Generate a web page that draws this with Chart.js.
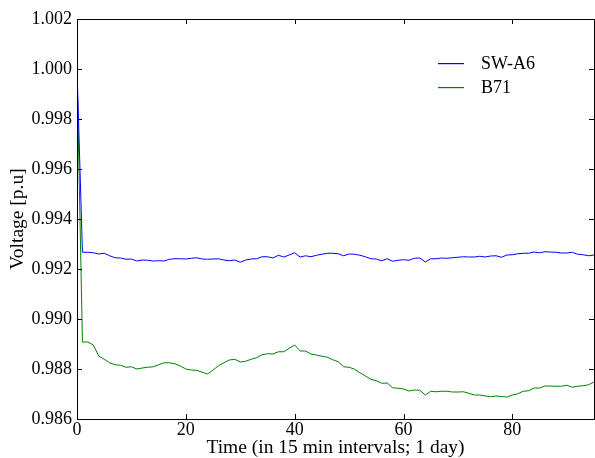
<!DOCTYPE html>
<html>
<head>
<meta charset="utf-8">
<script src="https://cdn.jsdelivr.net/npm/chart.js@4"></script>
<style>
  html, body { margin: 0; padding: 0; background: #fff; }
  #wrap { width: 595px; height: 458px; position: relative; }
</style>
</head>
<body>
<div id="wrap"><canvas id="voltageChart"></canvas></div>
<script>
// Data (96 intervals of 15 min)
const intervals = Array.from({ length: 96 }, (_, i) => i);

const swA6 = [
  1.00000, 0.99267, 0.99267, 0.99265, 0.99260, 0.99263, 0.99253, 0.99245, 0.99244, 0.99239,
  0.99240, 0.99232, 0.99236, 0.99235, 0.99232, 0.99233, 0.99232, 0.99239, 0.99241, 0.99241,
  0.99240, 0.99243, 0.99245, 0.99240, 0.99239, 0.99240, 0.99241, 0.99236, 0.99233, 0.99236,
  0.99227, 0.99236, 0.99240, 0.99241, 0.99249, 0.99249, 0.99244, 0.99255, 0.99248, 0.99256,
  0.99265, 0.99248, 0.99253, 0.99249, 0.99255, 0.99259, 0.99263, 0.99263, 0.99261, 0.99253,
  0.99260, 0.99259, 0.99255, 0.99249, 0.99241, 0.99240, 0.99233, 0.99241, 0.99231, 0.99235,
  0.99237, 0.99235, 0.99243, 0.99244, 0.99228, 0.99241, 0.99241, 0.99244, 0.99243, 0.99245,
  0.99247, 0.99249, 0.99248, 0.99248, 0.99251, 0.99248, 0.99252, 0.99253, 0.99247, 0.99256,
  0.99257, 0.99261, 0.99263, 0.99263, 0.99268, 0.99265, 0.99269, 0.99268, 0.99267, 0.99264,
  0.99264, 0.99267, 0.99259, 0.99257, 0.99253, 0.99256
];

const b71 = [
  1.00000, 0.98908, 0.98908, 0.98896, 0.98852, 0.98839, 0.98825, 0.98817, 0.98815, 0.98807,
  0.98809, 0.98800, 0.98804, 0.98807, 0.98809, 0.98817, 0.98825, 0.98825, 0.98821, 0.98812,
  0.98800, 0.98796, 0.98795, 0.98787, 0.98780, 0.98796, 0.98813, 0.98825, 0.98836, 0.98839,
  0.98828, 0.98831, 0.98839, 0.98845, 0.98857, 0.98861, 0.98860, 0.98869, 0.98869, 0.98883,
  0.98896, 0.98872, 0.98872, 0.98860, 0.98856, 0.98851, 0.98847, 0.98837, 0.98829, 0.98809,
  0.98807, 0.98799, 0.98785, 0.98772, 0.98759, 0.98753, 0.98743, 0.98744, 0.98725, 0.98723,
  0.98720, 0.98712, 0.98716, 0.98715, 0.98696, 0.98711, 0.98709, 0.98711, 0.98711, 0.98708,
  0.98708, 0.98709, 0.98703, 0.98696, 0.98696, 0.98692, 0.98689, 0.98692, 0.98690, 0.98688,
  0.98696, 0.98701, 0.98711, 0.98713, 0.98724, 0.98724, 0.98732, 0.98732, 0.98731, 0.98731,
  0.98735, 0.98727, 0.98731, 0.98733, 0.98737, 0.98748
];

const xTicks = [0, 20, 40, 60, 80];
const yTicks = [0.986, 0.988, 0.990, 0.992, 0.994, 0.996, 0.998, 1.000, 1.002];

const FONT = "'Liberation Serif', 'DejaVu Serif', serif";

// Frame, inward ticks on all four sides, and the legend inside the plot
const framePlugin = {
  id: 'frame',
  afterDatasetsDraw(chart) {
    const { ctx, chartArea: a, scales } = chart;
    const len = 5;
    ctx.save();
    ctx.strokeStyle = '#000';
    ctx.lineWidth = 1;
    ctx.beginPath();
    yTicks.forEach(v => {
      const y = Math.round(scales.y.getPixelForValue(v)) + 0.5;
      ctx.moveTo(a.left, y); ctx.lineTo(a.left + len, y);
      ctx.moveTo(a.right, y); ctx.lineTo(a.right - len, y);
    });
    xTicks.forEach(v => {
      const x = Math.round(scales.x.getPixelForValue(v)) + 0.5;
      ctx.moveTo(x, a.bottom); ctx.lineTo(x, a.bottom - len);
      ctx.moveTo(x, a.top); ctx.lineTo(x, a.top + len);
    });
    ctx.stroke();
    ctx.strokeRect(Math.round(a.left) + 0.5, Math.round(a.top) + 0.5,
                   Math.round(a.right - a.left), Math.round(a.bottom - a.top));

    // legend
    ctx.font = '18px ' + FONT;
    ctx.textBaseline = 'middle';
    ctx.textAlign = 'left';
    chart.data.datasets.forEach((ds, i) => {
      const y = 63 + i * 24;
      ctx.fillStyle = ds.borderColor;
      ctx.fillRect(438, y, 26, 1.2);
      ctx.fillStyle = '#000';
      ctx.fillText(ds.label, 481, y + 1.5);
    });
    ctx.restore();
  }
};

function renderChart() {
  const ctx = document.getElementById('voltageChart').getContext('2d');

  new Chart(ctx, {
    type: 'line',
    data: {
      labels: intervals,
      datasets: [
        { label: 'SW-A6', data: swA6, borderColor: '#0000ff', borderWidth: 1, pointRadius: 0, tension: 0, fill: false },
        { label: 'B71', data: b71, borderColor: '#008000', borderWidth: 1, pointRadius: 0, tension: 0, fill: false }
      ]
    },
    options: {
      responsive: true,
      maintainAspectRatio: false,
      animation: false,
      layout: { padding: { top: 19, right: 1, left: 0, bottom: 0 } },
      plugins: {
        legend: { display: false },
        tooltip: { enabled: false }
      },
      scales: {
        x: {
          type: 'linear',
          min: 0,
          max: 95,
          afterBuildTicks: scale => { scale.ticks = xTicks.map(v => ({ value: v })); },
          afterFit: scale => { scale.height = 39; },
          grid: { display: false, drawTicks: false },
          border: { display: false },
          ticks: {
            padding: 0,
            color: '#000',
            font: { family: FONT, size: 18 },
            maxRotation: 0,
            callback: v => String(v)
          },
          title: {
            display: true,
            text: 'Time (in 15 min intervals; 1 day)',
            color: '#000',
            font: { family: FONT, size: 19.5 },
            padding: { top: 0, bottom: -2 }
          }
        },
        y: {
          min: 0.986,
          max: 1.002,
          afterBuildTicks: scale => { scale.ticks = yTicks.map(v => ({ value: v })); },
          afterFit: scale => { scale.width = 77; },
          grid: { display: false, drawTicks: false },
          border: { display: false },
          ticks: {
            padding: 5,
            color: '#000',
            font: { family: FONT, size: 18 },
            callback: v => Number(v).toFixed(3)
          },
          title: {
            display: true,
            text: 'Voltage [p.u]',
            color: '#000',
            font: { family: FONT, size: 19.5 },
            padding: { top: 6, bottom: 0 }
          }
        }
      }
    },
    plugins: [framePlugin]
  });
}

document.addEventListener('DOMContentLoaded', renderChart);
</script>
</body>
</html>
